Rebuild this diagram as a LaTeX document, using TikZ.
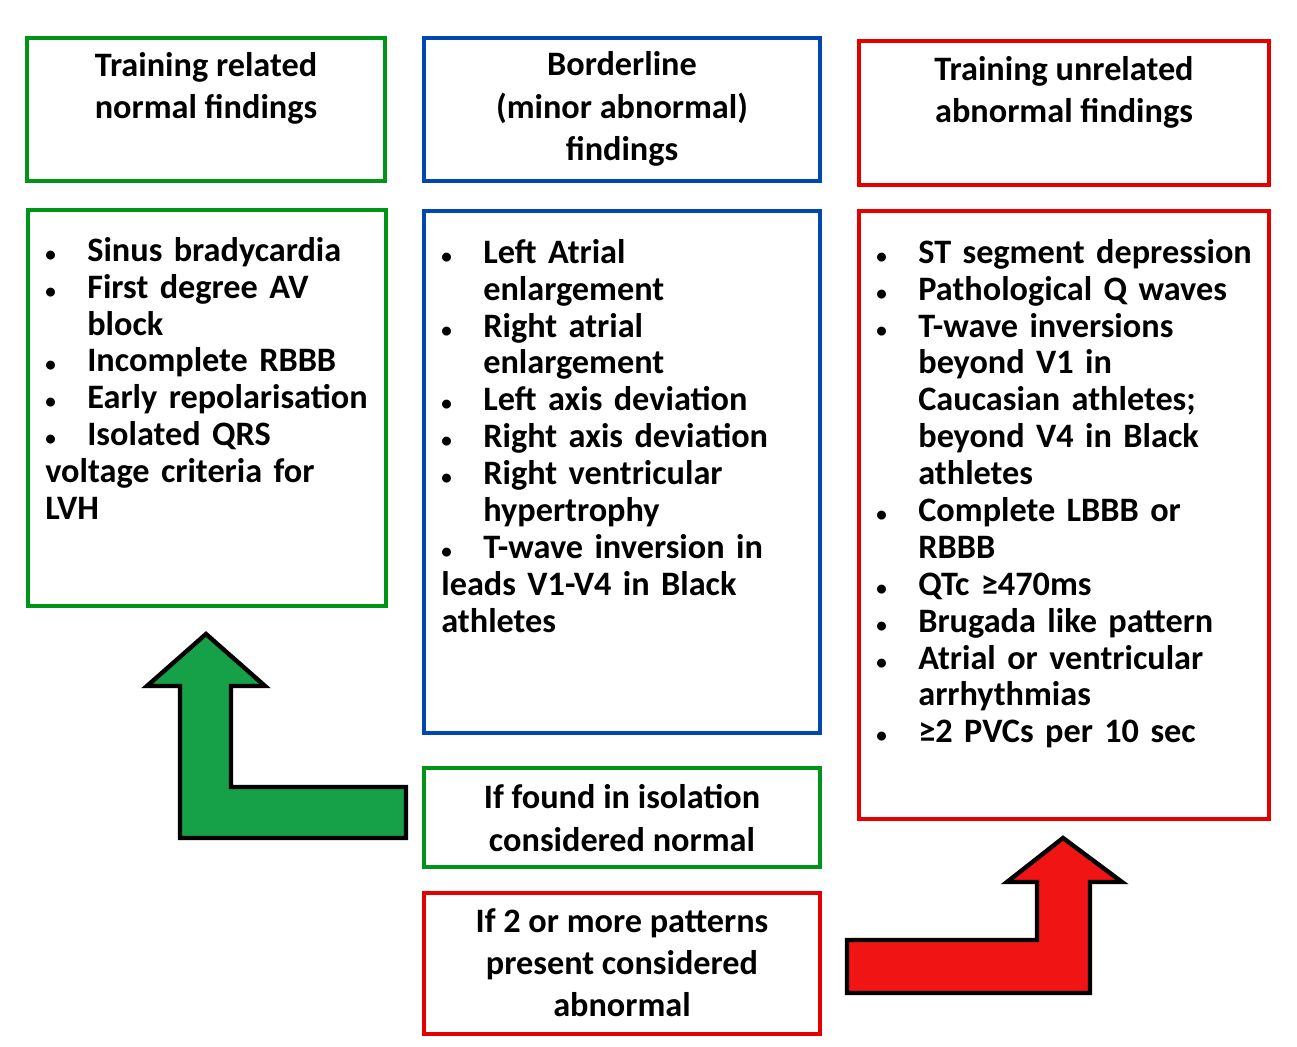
\documentclass[tikz,border=0pt]{standalone}
\usepackage{fontspec}
\setmainfont{Carlito}
\tikzset{
  gbox/.style={draw=green!60!black!80!teal, line width=2.2pt},
  bbox/.style={draw=blue!60!cyan!70!black, line width=2.2pt},
  rbox/.style={draw=red!90!black, line width=2.2pt},
  hdr/.style={font=\bfseries\fontsize{19.5}{24}\selectfont, align=center, text=black},
  lst/.style={font=\bfseries\fontsize{19.5}{21}\selectfont, align=left, anchor=north west, inner sep=0pt, text width=#1},
}
\newcommand{\bit}[1]{\par\hangindent=0.84cm\hangafter=1\noindent\makebox[0.84cm][l]{\fontsize{12}{12}\selectfont\textbullet}#1}
\newcommand{\nl}{\newline}
\definecolor{garrow}{RGB}{22,160,72}
\definecolor{rarrow}{RGB}{240,20,20}
\begin{document}
\begin{tikzpicture}[x=0.02cm,y=-0.02cm]
\useasboundingbox (0,0) rectangle (1297,1047);
% headers
\draw[gbox] (27,38) rectangle (385,181);
\node[hdr] (h1) at (206,88) {Training related\\normal findings};
\draw[bbox] (424,38) rectangle (820,181);
\node[hdr] (h2) at (622,109) {Borderline\\(minor abnormal)\\findings};
\draw[rbox] (859,41) rectangle (1269,185);
\node[hdr] (h3) at (1064,92) {Training unrelated\\abnormal findings};
% bodies
\draw[gbox] (28,210) rectangle (386,606);
\node[lst=8cm] (l1) at (45,224) {\bit{Sinus bradycardia}\bit{First degree AV\nl block}\bit{Incomplete RBBB}\bit{Early repolarisation}\bit{Isolated QRS\nl voltage criteria for\nl LVH}};
\draw[bbox] (424,211) rectangle (820,733);
\node[lst=8cm] (l2) at (441,226) {\bit{Left Atrial\nl enlargement}\bit{Right atrial\nl enlargement}\bit{Left axis deviation}\bit{Right axis deviation}\bit{Right ventricular\nl hypertrophy}\bit{T-wave inversion in\nl leads V1-V4 in Black\nl athletes}};
\draw[rbox] (859,211) rectangle (1269,819);
\node[lst=8.5cm] (l3) at (876,226) {\bit{ST segment depression}\bit{Pathological Q waves}\bit{T-wave inversions\nl beyond V1 in\nl Caucasian athletes;\nl beyond V4 in Black\nl athletes}\bit{Complete LBBB or\nl RBBB}\bit{QTc ≥470ms}\bit{Brugada like pattern}\bit{Atrial or ventricular\nl arrhythmias}\bit{≥2 PVCs per 10 sec}};
% small boxes
\draw[gbox] (424,768) rectangle (820,867);
\node[hdr] (s1) at (622,818) {If found in isolation\\considered normal};
\draw[rbox] (424,893) rectangle (820,1034);
\node[hdr] (s2) at (622,963) {If 2 or more patterns\\present considered\\abnormal};
% arrows
\draw[fill=garrow, line width=2.5pt, line join=miter] (406,787) -- (406,838) -- (180,838) -- (180,686) -- (147,686) -- (206,634) -- (265,686) -- (231,686) -- (231,787) -- cycle;
\draw[fill=rarrow, line width=2.5pt, line join=miter] (847,940) -- (1037,940) -- (1037,882) -- (1007,882) -- (1063,838) -- (1122,882) -- (1090,882) -- (1090,993) -- (847,993) -- cycle;
\end{tikzpicture}
\end{document}
